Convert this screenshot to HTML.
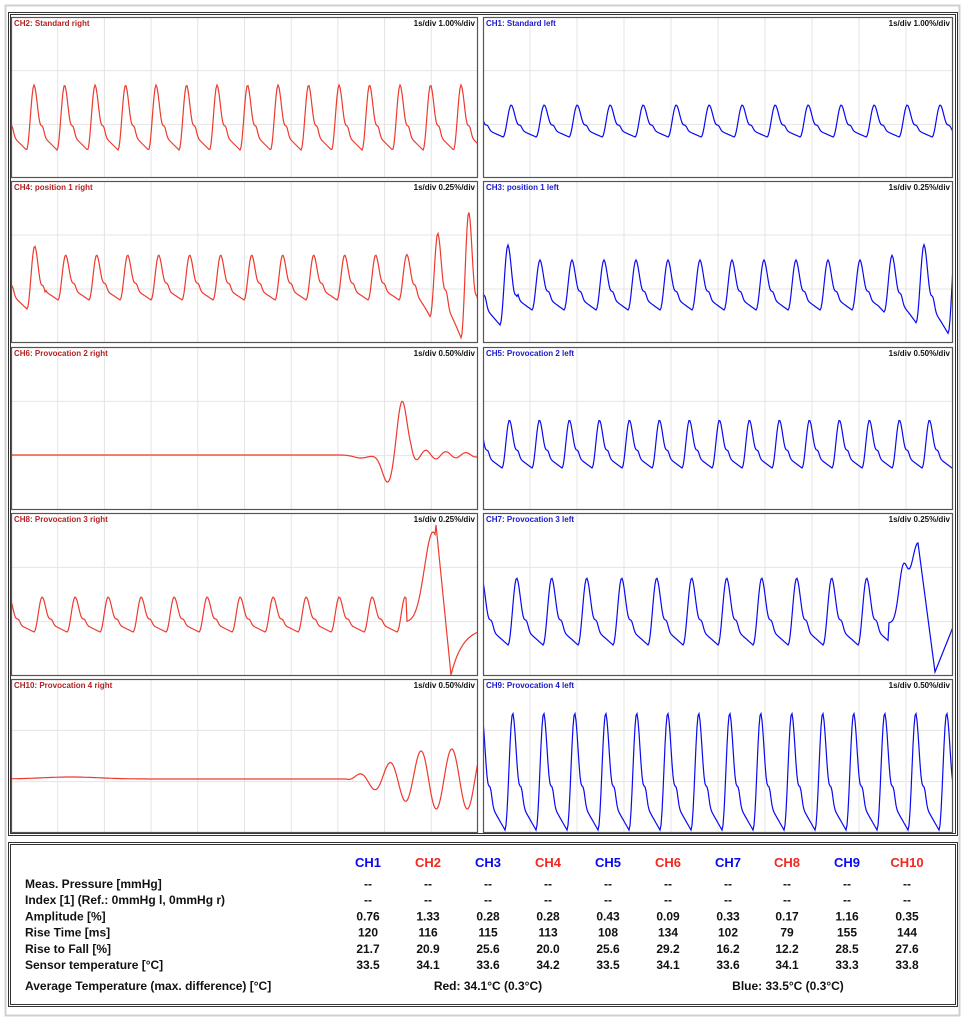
<!DOCTYPE html>
<html><head><meta charset="utf-8"><style>
body{margin:0;background:#fff;width:965px;height:1024px;overflow:hidden;font-family:"Liberation Sans",Arial,sans-serif}
</style></head><body>
<svg id="s" width="965" height="1024" xmlns="http://www.w3.org/2000/svg" font-family="Liberation Sans, Arial, sans-serif">
<rect x="5.5" y="5.5" width="954" height="1010" fill="#fff" stroke="#d0d0d0" stroke-width="2"/>
<rect x="8.5" y="12.5" width="949" height="823" fill="none" stroke="#333" stroke-width="1"/>
<rect x="10.5" y="14.5" width="945" height="819" fill="none" stroke="#333" stroke-width="1"/>
<rect x="8.5" y="842.5" width="949" height="164" fill="none" stroke="#333" stroke-width="1"/>
<rect x="10.5" y="844.5" width="945" height="160" fill="none" stroke="#333" stroke-width="1"/>
<g id="panels"></g>
<g font-weight="bold" font-size="12" fill="#111" id="tbl"></g>
</svg>
<script>
var NS="http://www.w3.org/2000/svg",P=document.getElementById('panels');
function el(t,a,p){var e=document.createElementNS(NS,t);for(var k in a)e.setAttribute(k,a[k]);(p||P).appendChild(e);return e;}
function txt(x,y,s,a,p){var e=el('text',Object.assign({x:x,y:y},a),p);e.textContent=s;return e;}
var RED="#ee3a2e",BLUE="#0a0af0";
function g(t,m,s){return Math.exp(-Math.pow((t-m)/s,2));}
function shape(t){
 if(t<0.25)return 0.5-0.5*Math.cos(Math.PI*t/0.25);
 return 0.35+0.65*g(t,0.25,0.15)+0.12*g(t,0.53,0.07)-0.35*(t-0.25)/0.75;
}
var cols=[[11,467],[483,470]],rows=[[17,161],[181,162],[347,163],[513,163],[679,154]];
var info=[
["CH2: Standard right","1.00%/div",0,0,{per:30.5,off:-15,yt:133,yp:68}],
["CH1: Standard left","1.00%/div",1,0,{per:33,off:-13,yt:120,yp:88}],
["CH4: position 1 right","0.25%/div",0,1,{per:31,off:-15,yt:119,yp:74,grow:[395,3.2],start:1.4}],
["CH3: position 1 left","0.25%/div",1,1,{per:32,off:-15,yt:129,yp:79,grow:[395,2.0],start:1.6}],
["CH6: Provocation 2 right","0.50%/div",0,2,{flat:true,base:108}],
["CH5: Provocation 2 left","0.50%/div",1,2,{per:30,off:-11,yt:121,yp:73}],
["CH8: Provocation 3 right","0.25%/div",0,3,{per:33,off:-10,yt:119,yp:84,spike8:true}],
["CH7: Provocation 3 left","0.25%/div",1,3,{per:35,off:-10,yt:132,yp:65,end7:true}],
["CH10: Provocation 4 right","0.50%/div",0,4,{flat10:true,base:100}],
["CH9: Provocation 4 left","0.50%/div",1,4,{per:31,off:-9,yt:151,yp:34}]];
info.forEach(function(d,i){
 var X=cols[d[2]][0],W=cols[d[2]][1],Y=rows[d[3]][0],H=rows[d[3]][1],c=d[2]?BLUE:RED,o=d[4];
 var cid='c'+i;var cp=el('clipPath',{id:cid});el('rect',{x:X,y:Y,width:W,height:H},cp);
 for(var k=1;k<10;k++)el('line',{x1:X+W*k/10,y1:Y,x2:X+W*k/10,y2:Y+H,stroke:"#e4e4e4","stroke-width":1});
 for(k=1;k<3;k++)el('line',{x1:X,y1:Y+H*k/3,x2:X+W,y2:Y+H*k/3,stroke:"#e4e4e4","stroke-width":1});
 var pts=[];
 for(var x=0;x<=W;x+=1){var y;
  if(o.flat){y=o.base; if(x>330){y+= 3*g(x,350,10)+28*g(x,377,8)-55*g(x,391,7)+(x>400?6*Math.sin((x-400)/20*2*Math.PI)*Math.exp(-(x-400)/60):0);}}
  else if(o.flat10){y=o.base-2*g(x,60,40); if(x>335){var a=Math.min(1,(x-335)/80);y+= -30*a*Math.sin((x-340)/31*2*Math.PI);}}
  else{var ph=((x-o.off)/o.per)%1;if(ph<0)ph+=1;var s=shape(ph),m=1;
   if(o.grow&&x>o.grow[0])m=1+(o.grow[1]-1)*(x-o.grow[0])/(W-o.grow[0]);
   if(o.start&&x<35)m=o.start;
   var mid=(o.yt+o.yp)/2,amp=o.yt-o.yp;
   y=mid+m*(amp/2-amp*s);
   if(o.spike8&&x>395){
     if(x<425)y=o.yt-10-90*g(x,422,12);
     else if(x<440)y=12+(x-425)/15*150;
     else y=162-48*(1-Math.exp(-(x-440)/12));
   }
   if(o.end7&&x>405){
     if(x<435)y=110-50*g(x,420,6)-80*g(x,435,10);
     else if(x<452)y=30+(x-435)/17*129;
     else y=159-(x-452)*2.5;
   }
  }
  pts.push((X+x).toFixed(1)+","+(Y+y).toFixed(1));}
 el('polyline',{points:pts.join(" "),fill:"none",stroke:c,"stroke-width":1.2,"clip-path":"url(#"+cid+")"});
 el('rect',{x:X+.5,y:Y+.5,width:W-1,height:H-1,fill:"none",stroke:"#555","stroke-width":1.2});
 txt(X+3,Y+9,d[0],{"font-size":8,"font-weight":"bold",fill:d[2]?"#1a1acc":"#b22222"});
 txt(X+W-3,Y+9,"1s/div  "+d[1],{"font-size":8,"font-weight":"bold",fill:"#111","text-anchor":"end","xml:space":"preserve"});
});
var T=document.getElementById('tbl');
var cx=[368,428,488,548,608,668,728,787,847,907];
cx.forEach(function(x,i){txt(x,867,"CH"+(i+1),{"text-anchor":"middle",fill:i%2?"#ee2a22":"#0a0af0","font-size":13},T);});
var labels=["Meas. Pressure [mmHg]","Index [1] (Ref.: 0mmHg l, 0mmHg r)","Amplitude [%]","Rise Time [ms]","Rise to Fall [%]","Sensor temperature [°C]"];
var vals=[["--","--","--","--","--","--","--","--","--","--"],["--","--","--","--","--","--","--","--","--","--"],
["0.76","1.33","0.28","0.28","0.43","0.09","0.33","0.17","1.16","0.35"],
["120","116","115","113","108","134","102","79","155","144"],
["21.7","20.9","25.6","20.0","25.6","29.2","16.2","12.2","28.5","27.6"],
["33.5","34.1","33.6","34.2","33.5","34.1","33.6","34.1","33.3","33.8"]];
labels.forEach(function(l,r){var y=888+r*16.2;txt(25,y,l,{},T);vals[r].forEach(function(v,i){txt(cx[i],y,v,{"text-anchor":"middle"},T);});});
txt(25,990,"Average Temperature (max. difference) [°C]",{},T);
txt(488,990,"Red: 34.1°C (0.3°C)",{"text-anchor":"middle"},T);
txt(788,990,"Blue: 33.5°C (0.3°C)",{"text-anchor":"middle"},T);
</script>
</body></html>
